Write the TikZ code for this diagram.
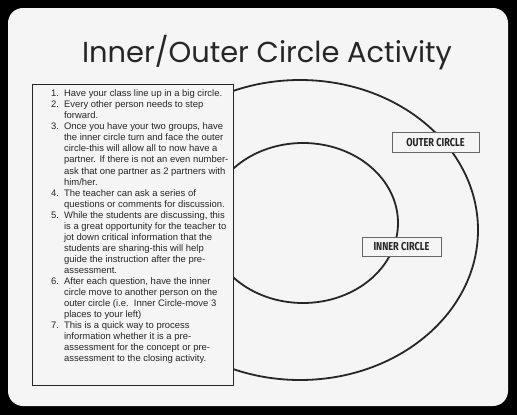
\documentclass[tikz,border=0pt]{standalone}
\usepackage{fontspec}
\setmainfont{Liberation Sans}
\newfontfamily\titlefont{Poppins}
\newfontfamily\tagfont[FakeStretch=0.8]{Fira Sans}
\usetikzlibrary{positioning}
\definecolor{card}{HTML}{F5F5F5}
\definecolor{ink}{HTML}{262626}

\begin{document}
\begin{tikzpicture}[x=1pt,y=-1pt,
  ring/.style={ink,line width=1.8pt},
  tagbox/.style={draw=gray!80!black,fill=card,line width=0.8pt,minimum width=87pt,
    minimum height=20pt,inner sep=0pt,text=ink,font=\tagfont\bfseries\fontsize{11.5}{12}\selectfont}]
  \useasboundingbox (0,0) rectangle (517,415);
  \fill[black] (0,0) rectangle (517,415);
  \fill[card,rounded corners=15pt] (8,8) rectangle (508,406);
  \node[font=\titlefont\fontsize{28.9}{32}\selectfont,text=ink] (title) at (267,53)
    {Inner/Outer Circle Activity};
  % the two rings
  \draw[ring] (300,230) ellipse [x radius=178,y radius=150];
  \draw[ring] (303,223) ellipse [x radius=95,y radius=80];
  % list of steps, laid over the rings
  \filldraw[draw=ink,fill=card,line width=0.7pt] (32,84) rectangle (233,385);
  \node[anchor=north west,inner sep=0pt,text=ink] (steps) at (51,88.8) {%
    \fontsize{9.45}{11.04}\selectfont
    \begin{tabular}{@{}r@{\hspace{5pt}}l@{}}
      1. & Have your class line up in a big circle.\\
      2. & Every other person needs to step\\
         & forward.\\
      3. & Once you have your two groups, have\\
         & the inner circle turn and face the outer\\
         & circle-this will allow all to now have a\\
         & partner. If there is not an even number-\\
         & ask that one partner as 2 partners with\\
         & him/her.\\
      4. & The teacher can ask a series of\\
         & questions or comments for discussion.\\
      5. & While the students are discussing, this\\
         & is a great opportunity for the teacher to\\
         & jot down critical information that the\\
         & students are sharing-this will help\\
         & guide the instruction after the pre-\\
         & assessment.\\
      6. & After each question, have the inner\\
         & circle move to another person on the\\
         & outer circle (i.e.\ \ Inner Circle-move 3\\
         & places to your left)\\
      7. & This is a quick way to process\\
         & information whether it is a pre-\\
         & assessment for the concept or pre-\\
         & assessment to the closing activity.
    \end{tabular}};
  \node[tagbox] (outertag) at (435.5,142.5) {OUTER CIRCLE};
  \node[tagbox,minimum width=79pt,minimum height=19pt] (innertag) at (401.5,246.5) {INNER CIRCLE};
\end{tikzpicture}
\end{document}
